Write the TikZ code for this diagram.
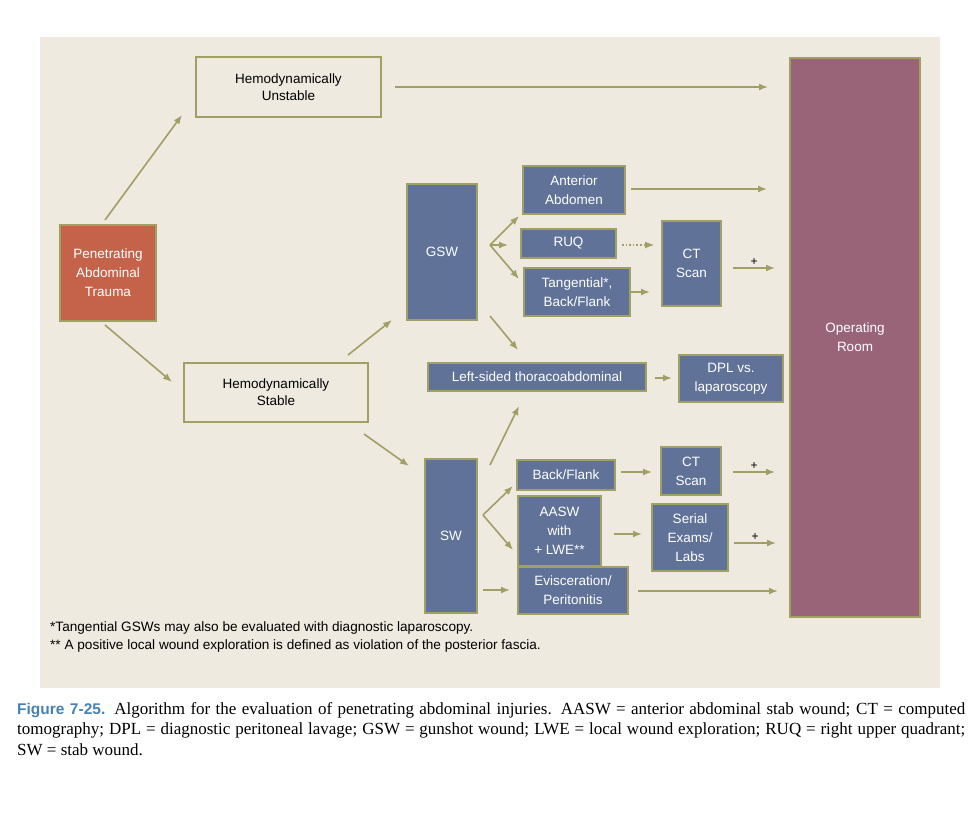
\documentclass[tikz,border=0pt]{standalone}
\usepackage{fontspec}
\setmainfont{Liberation Sans}
\newfontfamily\capfont{Liberation Serif}
\begin{document}
\begin{tikzpicture}[x=1pt,y=-1pt,
  bx/.style={draw=edge,line width=1.8pt,fill=bluebox,text=white,align=center,font=\fontsize{13.5}{19}\selectfont},
  wb/.style={draw=edge,line width=1.8pt,fill=bg,align=center,font=\fontsize{13.5}{17}\selectfont},
  ar/.style={draw=arrowc,line width=1.6pt,-{Latex[length=9pt,width=7pt]}},
  pl/.style={midway,above,font=\fontsize{12}{12}\selectfont,inner sep=2pt},
]
\usetikzlibrary{arrows.meta}
\definecolor{bg}{RGB}{238,234,224}
\definecolor{bluebox}{RGB}{96,114,152}
\definecolor{edge}{RGB}{160,160,100}
\definecolor{arrowc}{RGB}{158,160,100}
\definecolor{redbox}{RGB}{196,98,74}
\definecolor{orbox}{RGB}{154,100,120}
\definecolor{capblue}{RGB}{70,130,180}
\useasboundingbox (0,0) rectangle (970,825);
\fill[white] (0,0) rectangle (970,825);
\fill[bg] (40,37) rectangle (940,688);
\newcommand{\bxat}[6]{\node[#1,minimum width=#4-#2,minimum height=#5-#3,inner sep=0pt] (#6) at ({(#2+#4)/2},{(#3+#5)/2})}
\bxat{bx,fill=redbox}{60}{225}{156}{321}{pen} {Penetrating\\Abdominal\\Trauma};
\bxat{wb}{196}{57}{381}{117}{uns} {Hemodynamically\\Unstable};
\bxat{wb}{184}{363}{368}{422}{sta} {Hemodynamically\\Stable};
\bxat{bx,fill=orbox}{790}{58}{920}{617}{or} {Operating\\Room};
\bxat{bx}{407}{184}{477}{320}{gsw} {GSW};
\bxat{bx}{523}{166}{625}{214}{ant} {Anterior\\Abdomen};
\bxat{bx}{521}{229}{616}{258}{ruq} {RUQ};
\bxat{bx}{524}{268}{630}{316}{tan} {Tangential*,\\Back/Flank};
\bxat{bx}{662}{221}{721}{306}{cta} {CT\\Scan};
\bxat{bx}{428}{363}{646}{391}{lst} {Left-sided thoracoabdominal};
\bxat{bx}{679}{355}{783}{402}{dpl} {DPL vs.\\laparoscopy};
\bxat{bx}{425}{459}{477}{613}{sw} {SW};
\bxat{bx}{517}{460}{615}{490}{bfl} {Back/Flank};
\bxat{bx}{518}{496}{601}{566}{aasw} {AASW\\with\\+ LWE**};
\bxat{bx}{518}{567}{628}{614}{evi} {Evisceration/\\Peritonitis};
\bxat{bx}{661}{447}{721}{495}{ctb} {CT\\Scan};
\bxat{bx}{652}{504}{728}{571}{ser} {Serial\\Exams/\\Labs};
% arrows
\draw[ar] (105,220) -- (182,115);
\draw[ar] (105,325) -- (172,382);
\draw[ar] (395,87) -- (768,87);
\draw[ar] (348,355) -- (392,320);
\draw[ar] (364,434) -- (409,466);
\coordinate (gf) at (490,245);
\draw[ar] (gf) -- (519,216);
\draw[ar] (gf) -- (508,245);
\draw[ar] (gf) -- (519,279);
\draw[ar] (490,316) -- (518,350);
\draw[ar] (490,465) -- (519,406);
\draw[ar] (631,189) -- (767,189);
\draw[ar,dotted,line width=1.1pt] (622,245) -- (654,245);
\draw[ar] (630,292) -- (650,292);
\draw[ar] (733,268) -- (775,268) node[pl]{+};
\draw[ar] (655,378) -- (672,378);
\coordinate (sf) at (483,515);
\draw[ar] (sf) -- (513,486);
\draw[ar] (sf) -- (513,550);
\draw[ar] (483,590) -- (510,590);
\draw[ar] (621,472) -- (652,472);
\draw[ar] (614,534) -- (642,534);
\draw[ar] (733,472) -- (775,472) node[pl]{+};
\draw[ar] (734,543) -- (776,543) node[pl]{+};
\draw[ar] (638,591) -- (778,591);
% footnotes
\node[anchor=west,inner sep=0pt,font=\fontsize{13.6}{15}\selectfont] (fn1) at (50,628) {*Tangential GSWs may also be evaluated with diagnostic laparoscopy.};
\node[anchor=west,inner sep=0pt,font=\fontsize{13.6}{15}\selectfont] (fn2) at (50,646) {** A positive local wound exploration is defined as violation of the posterior fascia.};
% caption
\node[anchor=north west,inner sep=0pt,text width=948pt,align=justify,font=\capfont\fontsize{17}{20.5}\selectfont] (cap) at (17,702) {{\color{capblue}\fontspec{Liberation Sans}\bfseries\fontsize{15.5}{20.5}\selectfont Figure 7-25.} Algorithm for the evaluation of penetrating abdominal injuries. AASW = anterior abdominal stab wound; CT = computed tomography; DPL = diagnostic peritoneal lavage; GSW = gunshot wound; LWE = local wound exploration; RUQ = right upper quadrant; SW = stab wound.};
\end{tikzpicture}
\end{document}
